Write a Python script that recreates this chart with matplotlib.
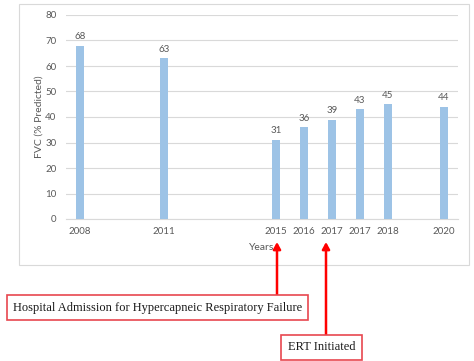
import numpy as np
import matplotlib.pyplot as plt
from matplotlib.patches import Rectangle, FancyArrowPatch

# categories (blank slots keep the time gaps of the original Excel chart)
years = ['2008', '', '', '2011', '', '', '', '2015', '2016', '2017', '2017', '2018', '', '2020']
fvc = [68, np.nan, np.nan, 63, np.nan, np.nan, np.nan, 31, 36, 39, 43, 45, np.nan, 44]

W, H = 474, 361
fig = plt.figure(figsize=(W / 100, H / 100), dpi=100)
ax = fig.add_axes([66 / W, 1 - 219 / H, 392 / W, 204 / H])

txt = '#595959'
x = np.arange(len(years))
bars = ax.bar(x, fvc, width=0.29, color='#9DC3E6', zorder=3)
for xi, v in zip(x, fvc):
    if not np.isnan(v):
        ax.text(xi, v + 1.8, '%d' % v, ha='center', va='bottom', fontsize=7, color=txt, family='Lato')

ax.set_xlim(-0.5, len(years) - 0.5)
ax.set_ylim(0, 80)
ax.set_yticks(range(0, 81, 10))
ax.set_xticks(x)
ax.set_xticklabels(years)
ax.tick_params(length=0, labelsize=7, labelcolor=txt, pad=7)
ax.tick_params(axis='x', pad=6)
for lab in ax.get_xticklabels() + ax.get_yticklabels():
    lab.set_family('Lato')
ax.grid(axis='y', color='#D9D9D9', linewidth=0.8, zorder=0)
for s in ['top', 'right', 'left']:
    ax.spines[s].set_visible(False)
ax.spines['bottom'].set_color('#D9D9D9')
ax.set_xlabel('Years', fontsize=7.5, color=txt, family='Lato', labelpad=5)
ax.set_ylabel('FVC (% Predicted)', fontsize=7.5, color=txt, family='Lato', labelpad=1)

# outer chart border
fig.patches.append(Rectangle((19 / W, 1 - 265 / H), 450 / W, 261 / H, transform=fig.transFigure,
                             fill=False, edgecolor='#D9D9D9', linewidth=0.8))

# annotations
def px(xp, yp):
    return (xp / W, 1 - yp / H)

for xa, y0 in [(277, 295), (326, 337)]:
    fig.patches.append(FancyArrowPatch(px(xa, y0), px(xa, 242), transform=fig.transFigure,
                                       arrowstyle='-|>,head_length=4,head_width=2.2',
                                       color='#FF0000', linewidth=1.8, shrinkA=0, shrinkB=0))

fig.text(*px(157.5, 307.5), 'Hospital Admission for Hypercapneic Respiratory Failure',
         ha='center', va='center', fontsize=9, family='Liberation Serif', color='#1a1a1a',
         bbox=dict(boxstyle='square,pad=0.5', facecolor='white', edgecolor='#E8474F', linewidth=1.2))
fig.text(*px(321.5, 347.5), 'ERT Initiated',
         ha='center', va='center', fontsize=9, family='Liberation Serif', color='#1a1a1a',
         bbox=dict(boxstyle='square,pad=0.55', facecolor='white', edgecolor='#E8474F', linewidth=1.2))

fig.savefig('out.png', dpi=100)
